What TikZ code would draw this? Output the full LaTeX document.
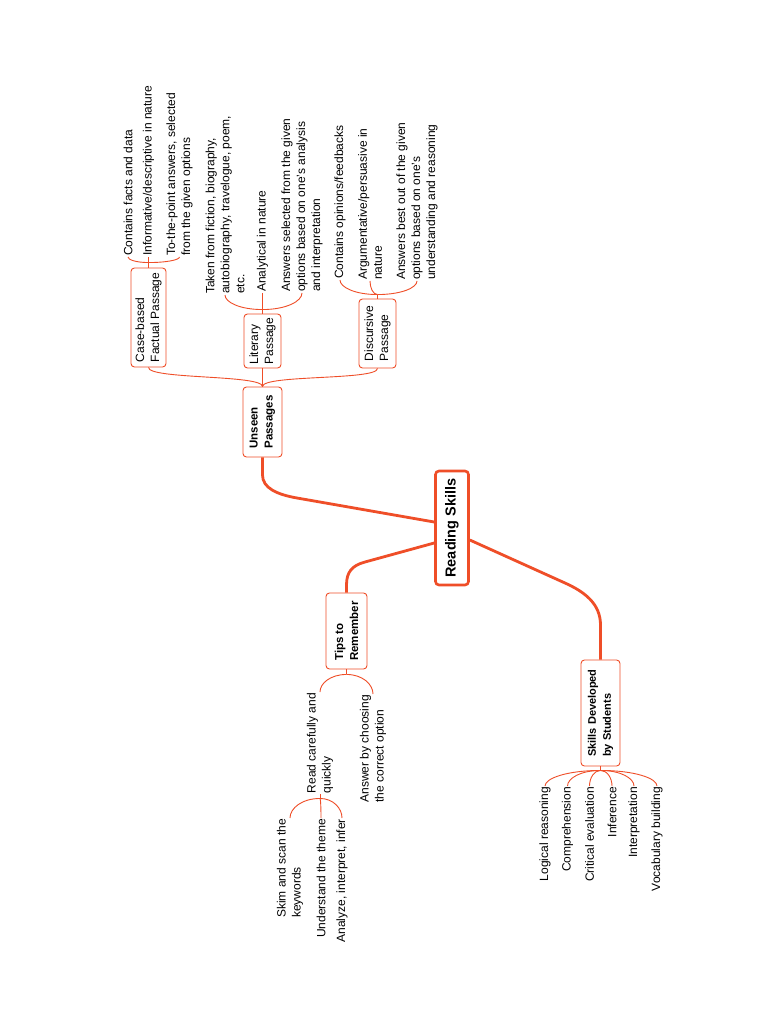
\documentclass[tikz,border=0pt]{standalone}
\usepackage{fontspec}
\setmainfont{Liberation Sans}
\usetikzlibrary{calc}
\definecolor{ored}{RGB}{239,78,40}
\newcommand\mmarm[2]{\draw[subline] let \p1=(#1), \p2=(#2) in (\p1) .. controls ({\x1+0.6*(\x2-\x1)},\y1) and (\x2,{\y2+0.5*(\y1-\y2)}) .. (\p2);}
\begin{document}
\begin{tikzpicture}[x=1pt,y=1pt,
  box/.style={draw=ored, line width=0.9pt, rounded corners=3.5pt, rotate=90, align=left, inner sep=0pt, fill=white},
  reg/.style={font=\fontsize{12}{15}\selectfont},
  bld/.style={font=\bfseries\fontsize{11.5}{15}\selectfont},
  leaf/.style={rotate=90, align=left, inner sep=1pt, font=\fontsize{12}{15}\selectfont},
  mainline/.style={draw=ored, line width=2.8pt},
  subline/.style={draw=ored, line width=0.9pt}]
\useasboundingbox (0,0) rectangle (768,-1024);
\fill[white] (0,0) rectangle (768,-1024);

% boxes
\node[box, line width=2.6pt, minimum width=114pt, minimum height=33pt, font=\bfseries\fontsize{14.5}{17}\selectfont] (reading) at (452,-528) {Reading Skills};
\node[box, bld, minimum width=70pt, minimum height=39pt] (unseen) at (262.5,-422) {Unseen\\Passages};
\node[box, bld, minimum width=76pt, minimum height=41pt] (tips) at (346.5,-631) {Tips to\\Remember};
\node[box, bld, font=\bfseries\fontsize{11}{15}\selectfont, minimum width=106pt, minimum height=39pt] (skills) at (600.5,-713) {Skills Developed\\by Students};
\node[box, reg, minimum width=99pt, minimum height=35pt] (case) at (148.5,-317.5) {Case-based\\Factual Passage};
\node[box, reg, minimum width=54pt, minimum height=37pt] (lit) at (262.5,-341) {Literary\\Passage};
\node[box, reg, minimum width=69pt, minimum height=37pt] (disc) at (377.5,-333.5) {Discursive\\Passage};

% main branches
\draw[mainline] ([yshift=6pt]reading.north) -- (297,-498) .. controls (277,-494.5) and (262.5,-488) .. (262.5,-475) -- (unseen.west);
\draw[mainline] ([yshift=-15pt]reading.north) -- (365,-562) .. controls (352,-565.5) and (346.5,-572) .. (346.5,-585) -- (tips.east);
\draw[mainline] ([yshift=-12pt]reading.south) -- (565,-583) .. controls (585,-592) and (600.5,-604) .. (600.5,-625) -- (skills.east);

% unseen children
\draw[subline] (unseen.east) .. controls ($(unseen.east)+(0,12)$) and ($(case.west)+(0,-12)$) .. (case.west);
\draw[subline] (unseen.east) -- (lit.west);
\draw[subline] (unseen.east) .. controls ($(unseen.east)+(0,12)$) and ($(disc.west)+(0,-12)$) .. (disc.west);

% case-based leaves
\node[leaf, anchor=west] (c1) at (128,-257) {Contains facts and data};
\node[leaf, anchor=west] (c2) at (148.5,-257) {Informative/descriptive in nature};
\node[leaf, anchor=west] (c3) at (179.5,-257) {To-the-point answers, selected\\from the given options};
\coordinate (bc) at ($(case.east)+(0,5)$);
\draw[subline] (case.east) -- (bc);
\mmarm{bc}{c1.west}
\mmarm{bc}{c2.west}
\mmarm{bc}{c3.west}

% literary leaves
\node[leaf, anchor=west] (l1) at (225,-295) {Taken from fiction, biography,\\autobiography, travelogue, poem,\\etc.};
\node[leaf, anchor=west] (l2) at (262.5,-293) {Analytical in nature};
\node[leaf, anchor=west] (l3) at (302,-293) {Answers selected from the given\\options based on one's analysis\\and interpretation};
\coordinate (bl) at ($(lit.east)+(0,4)$);
\draw[subline] (lit.east) -- (bl);
\mmarm{bl}{l1.west}
\mmarm{bl}{l2.west}
\mmarm{bl}{l3.west}

% discursive leaves
\node[leaf, anchor=west] (d1) at (340,-280) {Contains opinions/feedbacks};
\node[leaf, anchor=west] (d2) at (370,-281) {Argumentative/persuasive in\\nature};
\node[leaf, anchor=west] (d3) at (417,-281) {Answers best out of the given\\options based on one's\\understanding and reasoning};
\coordinate (bd) at ($(disc.east)+(0,4)$);
\draw[subline] (disc.east) -- (bd);
\mmarm{bd}{d1.west}
\mmarm{bd}{d2.west}
\mmarm{bd}{d3.west}

% tips leaves
\node[leaf, anchor=east] (t1) at (320,-692) {Read carefully and\\quickly};
\node[leaf, anchor=east] (t2) at (373,-694) {Answer by choosing\\the correct option};
\coordinate (bt) at ($(tips.west)+(0,-5)$);
\draw[subline] (tips.west) -- (bt);
\mmarm{bt}{t1.east}
\mmarm{bt}{t2.east}

% read carefully sub-leaves
\node[leaf, anchor=east] (r1) at (290,-818) {Skim and scan the\\keywords};
\node[leaf, anchor=east] (r2) at (321,-818) {Understand the theme};
\node[leaf, anchor=east] (r3) at (342,-818) {Analyze, interpret, infer};
\coordinate (br) at ($(t1.west)+(0,-4)$);
\draw[subline] (t1.west) -- (br);
\mmarm{br}{r1.east}
\mmarm{br}{r2.east}
\mmarm{br}{r3.east}

% skills leaves
\node[leaf, anchor=east] (s1) at (545,-786) {Logical reasoning};
\node[leaf, anchor=east] (s2) at (567.5,-786) {Comprehension};
\node[leaf, anchor=east] (s3) at (589.5,-786) {Critical evaluation};
\node[leaf, anchor=east] (s4) at (612,-786) {Inference};
\node[leaf, anchor=east] (s5) at (634,-786) {Interpretation};
\node[leaf, anchor=east] (s6) at (657,-786) {Vocabulary building};
\coordinate (bs) at ($(skills.west)+(0,-4)$);
\draw[subline] (skills.west) -- (bs);
\mmarm{bs}{s1.east}
\mmarm{bs}{s2.east}
\mmarm{bs}{s3.east}
\mmarm{bs}{s4.east}
\mmarm{bs}{s5.east}
\mmarm{bs}{s6.east}
\end{tikzpicture}
\end{document}
